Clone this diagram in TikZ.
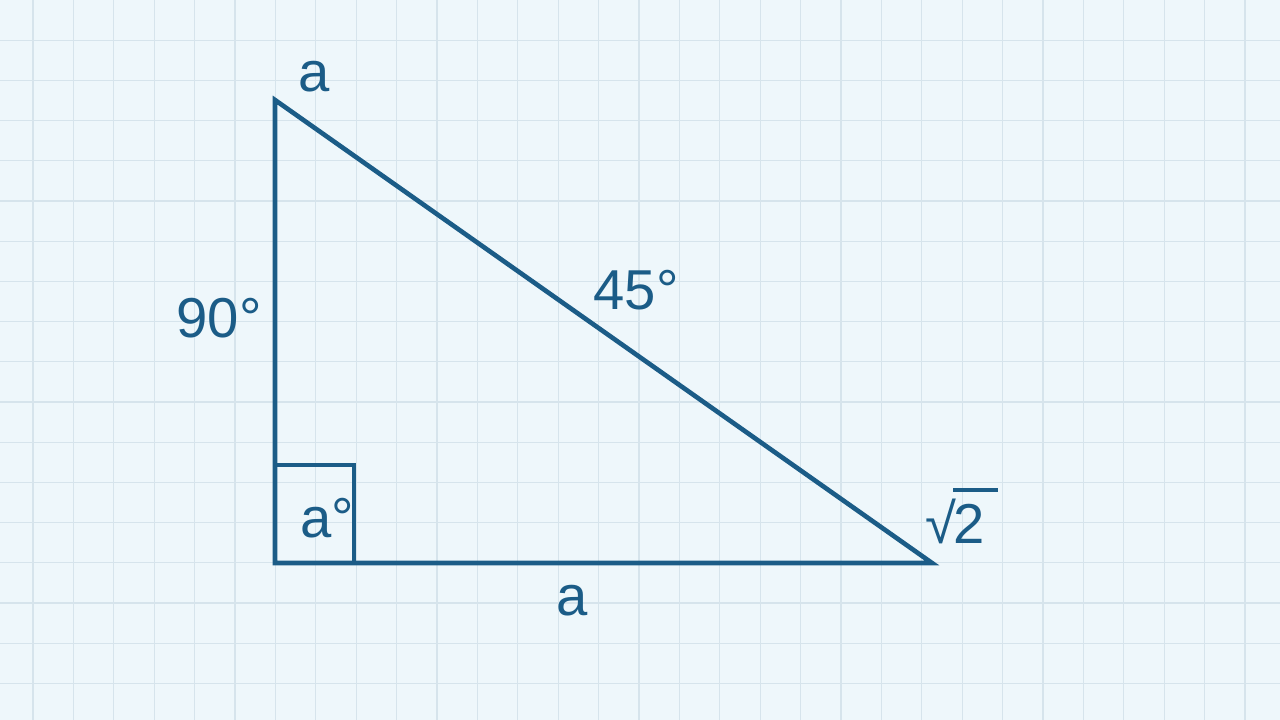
\documentclass[tikz,border=0pt]{standalone}
\usepackage{fontspec}
\setmainfont{Liberation Sans}
\usetikzlibrary{positioning}
\definecolor{paper}{HTML}{EEF7FB}
\definecolor{gridblue}{HTML}{D6E4EC}
\definecolor{inkblue}{HTML}{1B5C87}

\begin{document}
\begin{tikzpicture}[x=0.025cm,y=-0.025cm,
  gridln/.style={gridblue, line width=0.9pt},
  side/.style={inkblue, line width=3.3pt, line join=miter},
  lbl/.style={text=inkblue, anchor=base, inner sep=0pt, font=\fontsize{40}{48}\selectfont}]
  \useasboundingbox (0,0) rectangle (1280,720);
  \fill[paper] (0,0) rectangle (1280,720);
  % grid paper
  \foreach \i in {0,...,30} \draw[gridln] ({33+40.4*\i},0) -- ({33+40.4*\i},720);
  \foreach \j in {1,...,17} \draw[gridln] (0,{40.2*\j}) -- (1280,{40.2*\j});

  \coordinate (top)   at (275,100);
  \coordinate (right) at (275,563);
  \coordinate (far)   at (932,563);
  \coordinate (sq)    at (354,465);

  \draw[side] (top) -- (right) -- (far) -- cycle;
  \draw[side] (right) rectangle (sq);

  \node[lbl] (a_top)  at (314,92)  {a};
  \node[lbl] (ang90)  at (219,338) {90°};
  \node[lbl] (ang45)  at (636,310) {45°};
  \node[lbl] (ang_a)  at (327,537) {a°};
  \node[lbl] (root2)  at (962,543) {√\kern-0.05em\rlap{\rule[0.9em]{0.8em}{0.07em}}2\kern0.25em};
  \node[lbl] (a_base) at (572,615) {a};
\end{tikzpicture}
\end{document}
